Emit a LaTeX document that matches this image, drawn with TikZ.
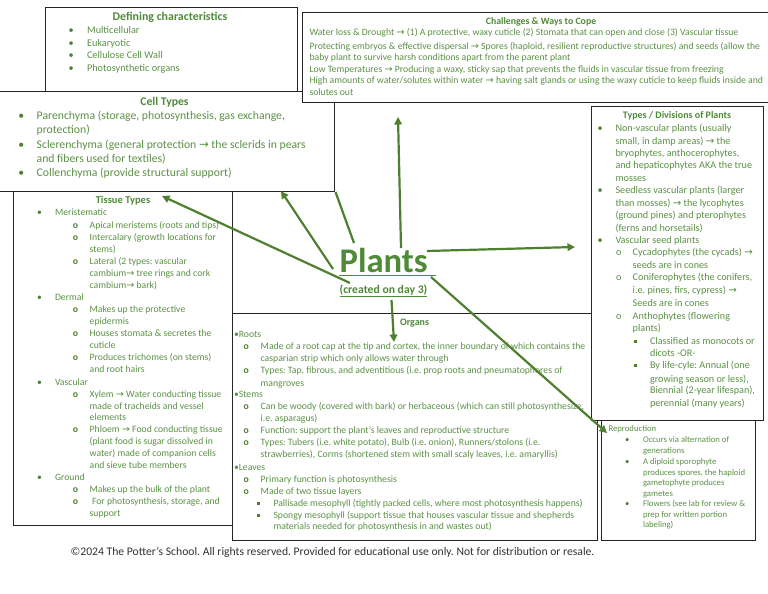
\documentclass[tikz,border=0pt]{standalone}
\usepackage{fontspec}
\setmainfont{Carlito}
\newfontfamily\arf{DejaVu Sans}
\usetikzlibrary{arrows.meta}
\definecolor{txt}{HTML}{5C9146}
\definecolor{head}{HTML}{4F8A38}
\definecolor{arr}{HTML}{4E8030}
\definecolor{edge}{HTML}{262626}
\newcount\tlcnt
\newcommand{\tl}[4][tx]{\global\advance\tlcnt by 1 \node[#1] (t\the\tlcnt) at (#2,#3) {#4};}
\newcommand{\bul}[2]{\global\advance\tlcnt by 1 \node[tx,text=arr] (t\the\tlcnt) at (#1,#2) {•};}
\newcommand{\ob}[2]{\global\advance\tlcnt by 1 \node[tx,text=arr,font=\fontsize{\fs}{11}\selectfont\bfseries] (t\the\tlcnt) at (#1,#2) {o};}
\newcommand{\ol}[2]{\global\advance\tlcnt by 1 \node[tx] (t\the\tlcnt) at (#1,#2) {o};}
\newcommand{\sq}[2]{\global\advance\tlcnt by 1 \node[fill=arr,inner sep=0pt,minimum size=3pt] (t\the\tlcnt) at (#1,#2-3) {};}
\newcommand{\ar}{{\arf →}}
\def\fs{9.7}
\begin{document}
\frenchspacing
\begin{tikzpicture}[x=1pt,y=-1pt,
  tx/.style={anchor=base west,inner sep=0pt,outer sep=0pt,text=txt,font=\fontsize{\fs}{11}\selectfont},
  title/.style={tx,anchor=base,text=head,font=\fontsize{#1}{13}\selectfont\bfseries},
  boxx/.style={draw=edge,line width=0.9pt,fill=white,anchor=north west,inner sep=0pt,outer sep=0pt},
  conn/.style={draw=arr,line width=2.2pt,-{Triangle[width=7.5pt,length=7.5pt]}}
]
\useasboundingbox (0,0) rectangle (768,594);
\fill[white] (0,0) rectangle (768,594);

% Defining characteristics
\begin{scope}
\def\fs{10.25}
\node[boxx,minimum width=252pt,minimum height=90pt] (defbox) at (45,7.5) {};
\tl[title=11.9]{170}{21}{Defining characteristics}
\bul{68.6}{34}\tl{87}{34}{Multicellular}
\bul{68.6}{46.5}\tl{87}{46.5}{Eukaryotic}
\bul{68.6}{59}\tl{87}{59}{Cellulose Cell Wall}
\bul{68.6}{71.5}\tl{87}{71.5}{Photosynthetic organs}
\end{scope}

% Cell types
\begin{scope}
\def\fs{11.7}
\node[boxx,minimum width=337pt,minimum height=99.5pt] (cellbox) at (-2.5,91.5) {};
\tl[title=11.7]{164.5}{105.5}{Cell Types}
\bul{18.3}{119}\tl{36.7}{119}{Parenchyma (storage, photosynthesis, gas exchange,}
\tl{36.7}{133}{protection)}
\bul{18.3}{148}\tl{36.7}{148}{Sclerenchyma (general protection \ar{} the sclerids in pears}
\tl{36.7}{162}{and fibers used for textiles)}
\bul{18.3}{176}\tl{36.7}{176}{Collenchyma (provide structural support)}
\end{scope}

% Challenges
\begin{scope}
\def\fs{9.73}
\node[boxx,minimum width=470pt,minimum height=90pt] (chalbox) at (302,12.5) {};
\tl[title=9.8]{541}{24.5}{Challenges \& Ways to Cope}
\tl{309.5}{36}{Water loss \& Drought \ar{} (1) A protective, waxy cuticle (2) Stomata that can open and close (3) Vascular tissue}
\tl{309.5}{49}{Protecting embryos \& effective dispersal \ar{} Spores (haploid, resilient reproductive structures) and seeds (allow the}
\tl{309.5}{60}{baby plant to survive harsh conditions apart from the parent plant}
\tl{309.5}{72}{Low Temperatures \ar{} Producing a waxy, sticky sap that prevents the fluids in vascular tissue from freezing}
\tl{309.5}{84}{High amounts of water/solutes within water \ar{} having salt glands or using the waxy cuticle to keep fluids inside and}
\tl{309.5}{95}{solutes out}
\end{scope}

% Tissue types
\begin{scope}
\def\fs{9.7}
\node[boxx,minimum width=218.5pt,minimum height=334.5pt] (tissbox) at (13.5,191) {};
\tl[title=10.5]{123}{203}{Tissue Types}
\bul{37}{215}\tl{55}{215}{Meristematic}
\ob{72.8}{228}\tl{89.7}{228}{Apical meristems (roots and tips)}
\ob{72.8}{240}\tl{89.7}{240}{Intercalary (growth locations for}
\tl{89.7}{252}{stems)}
\ob{72.8}{264}\tl{89.7}{264}{Lateral (2 types: vascular}
\tl{89.7}{276}{cambium\ar{} tree rings and cork}
\tl{89.7}{288}{cambium\ar{} bark)}
\bul{37}{300.5}\tl{55}{300.5}{Dermal}
\ob{72.8}{312.5}\tl{89.7}{312.5}{Makes up the protective}
\tl{89.7}{324.5}{epidermis}
\ob{72.8}{336.5}\tl{89.7}{336.5}{Houses stomata \& secretes the}
\tl{89.7}{348.5}{cuticle}
\ob{72.8}{360.5}\tl{89.7}{360.5}{Produces trichomes (on stems)}
\tl{89.7}{372.5}{and root hairs}
\bul{37}{385}\tl{55}{385}{Vascular}
\ob{72.8}{397}\tl{89.7}{397}{Xylem \ar{} Water conducting tissue}
\tl{89.7}{409}{made of tracheids and vessel}
\tl{89.7}{420}{elements}
\ob{72.8}{432}\tl{89.7}{432}{Phloem \ar{} Food conducting tissue}
\tl{89.7}{444}{(plant food is sugar dissolved in}
\tl{89.7}{456}{water) made of companion cells}
\tl{89.7}{468}{and sieve tube members}
\bul{37}{480}\tl{55}{480}{Ground}
\ob{72.8}{492}\tl{89.7}{492}{Makes up the bulk of the plant}
\ob{72.8}{504}\tl{92}{504}{For photosynthesis, storage, and}
\tl{89.7}{516}{support}
\end{scope}

% Organs
\begin{scope}
\def\fs{9.72}
\node[boxx,minimum width=365pt,minimum height=227pt] (orgbox) at (232,313) {};
\tl[title=10,anchor=base west]{400}{325}{Organs}
\tl{234}{337}{•Roots}
\ob{243.5}{349}\tl{260.7}{349}{Made of a root cap at the tip and cortex, the inner boundary of which contains the}
\tl{260.7}{361}{casparian strip which only allows water through}
\ob{243.5}{373}\tl{260.7}{373}{Types: Tap, fibrous, and adventitious (i.e. prop roots and pneumatophores of}
\tl{260.7}{386}{mangroves}
\tl{234}{397}{•Stems}
\ob{243.5}{409}\tl{260.7}{409}{Can be woody (covered with bark) or herbaceous (which can still photosynthesize,}
\tl{260.7}{421}{i.e. asparagus)}
\ob{243.5}{433}\tl{260.7}{433}{Function: support the plant's leaves and reproductive structure}
\ob{243.5}{445}\tl{260.7}{445}{Types: Tubers (i.e. white potato), Bulb (i.e. onion), Runners/stolons (i.e.}
\tl{260.7}{457}{strawberries), Corms (shortened stem with small scaly leaves, i.e. amaryllis)}
\tl{234}{470}{•Leaves}
\ob{243.5}{482}\tl{260.7}{482}{Primary function is photosynthesis}
\ob{243.5}{494}\tl{260.7}{494}{Made of two tissue layers}
\sq{258.5}{506}\tl{273.5}{506}{Pallisade mesophyll (tightly packed cells, where most photosynthesis happens)}
\sq{258.5}{518}\tl{273.5}{518}{Spongy mesophyll (support tissue that houses vascular tissue and shepherds}
\tl{273.5}{529}{materials needed for photosynthesis in and wastes out)}
\end{scope}

% Reproduction
\begin{scope}
\def\fs{8.7}
\node[boxx,minimum width=154pt,minimum height=125pt] (repbox) at (601,415.5) {};
\tl{608.5}{431}{Reproduction}
\bul{625}{442}\tl{643}{442}{Occurs via alternation of}
\tl{643}{453}{generations}
\bul{625}{464}\tl{643}{464}{A diploid sporophyte}
\tl{643}{475}{produces spores, the haploid}
\tl{643}{485}{gametophyte produces}
\tl{643}{496}{gametes}
\bul{625}{506}\tl{643}{506}{Flowers (see lab for review \&}
\tl{643}{517}{prep for written portion}
\tl{643}{527}{labeling)}
\end{scope}

% Types / Divisions
\begin{scope}
\def\fs{10.2}
\node[boxx,minimum width=172pt,minimum height=314pt] (typebox) at (591.5,106) {};
\tl[title=10]{677}{118}{Types / Divisions of Plants}
\bul{597.6}{131.5}\tl{615.5}{131.5}{Non-vascular plants (usually}
\tl{615.5}{144}{small, in damp areas) \ar{} the}
\tl{615.5}{156}{bryophytes, anthocerophytes,}
\tl{615.5}{168}{and hepaticophytes AKA the true}
\tl{615.5}{181}{mosses}
\bul{597.6}{193}\tl{615.5}{193}{Seedless vascular plants (larger}
\tl{615.5}{206}{than mosses) \ar{} the lycophytes}
\tl{615.5}{218}{(ground pines) and pterophytes}
\tl{615.5}{231}{(ferns and horsetails)}
\bul{597.6}{243}\tl{615.5}{243}{Vascular seed plants}
\ol{616}{255}\tl{632.7}{255}{Cycadophytes (the cycads) \ar}
\tl{632.7}{268}{seeds are in cones}
\ol{616}{280}\tl{632.7}{280}{Coniferophytes (the conifers,}
\tl{632.7}{293}{i.e. pines, firs, cypress) \ar}
\tl{632.7}{306}{Seeds are in cones}
\ol{616}{319}\tl{632.7}{319}{Anthophytes (flowering}
\tl{632.7}{331}{plants)}
\sq{635}{344}\tl{650}{344}{Classified as monocots or}
\tl{650}{356}{dicots -OR-}
\sq{635}{368}\tl{650}{368}{By life-cyle:  Annual (one}
\tl{650}{382}{growing season or less),}
\tl{650}{393.5}{Biennial (2-year lifespan),}
\tl{650}{406}{perennial (many years)}
\end{scope}

% Centre
\node[anchor=base west,inner sep=0pt,text=head,font=\fontsize{34.6}{40}\selectfont\bfseries] (plants) at (339.5,272) {Plants};
\draw[head,line width=1.5pt] (339,275.5) -- (436,275.5);
\node[anchor=base,inner sep=0pt,text=head,font=\fontsize{11.7}{13}\selectfont\bfseries] (created) at (383.5,293) {\underline{(created on day 3)}};

% Copyright
\node[anchor=base west,inner sep=0pt,text=black!80,font=\fontsize{11.65}{14}\selectfont] (copy) at (70.5,555.5) {©2024 The Potter's School. All rights reserved. Provided for educational use only. Not for distribution or resale.};

% Connectors
\coordinate (s1) at (354,243); \coordinate (e1) at (335.5,192);
\coordinate (s2) at (333,269); \coordinate (e2) at (281,191);
\coordinate (s3) at (350,283); \coordinate (e3) at (162,196);
\coordinate (s4) at (401,248); \coordinate (e4) at (398,117);
\coordinate (s5) at (427,251); \coordinate (e5) at (575,247);
\coordinate (s6) at (391.5,300); \coordinate (e6) at (394,342);
\coordinate (s7) at (431,277); \coordinate (e7) at (607,433);
\draw[draw=arr,line width=2.2pt] (s1) -- (e1);
\draw[conn] (s2) -- (e2);
\draw[conn] (s3) -- (e3);
\draw[conn] (s4) -- (e4);
\draw[conn] (s5) -- (e5);
\draw[conn] (s6) -- (e6);
\draw[conn] (s7) -- (e7);
\end{tikzpicture}
\end{document}
